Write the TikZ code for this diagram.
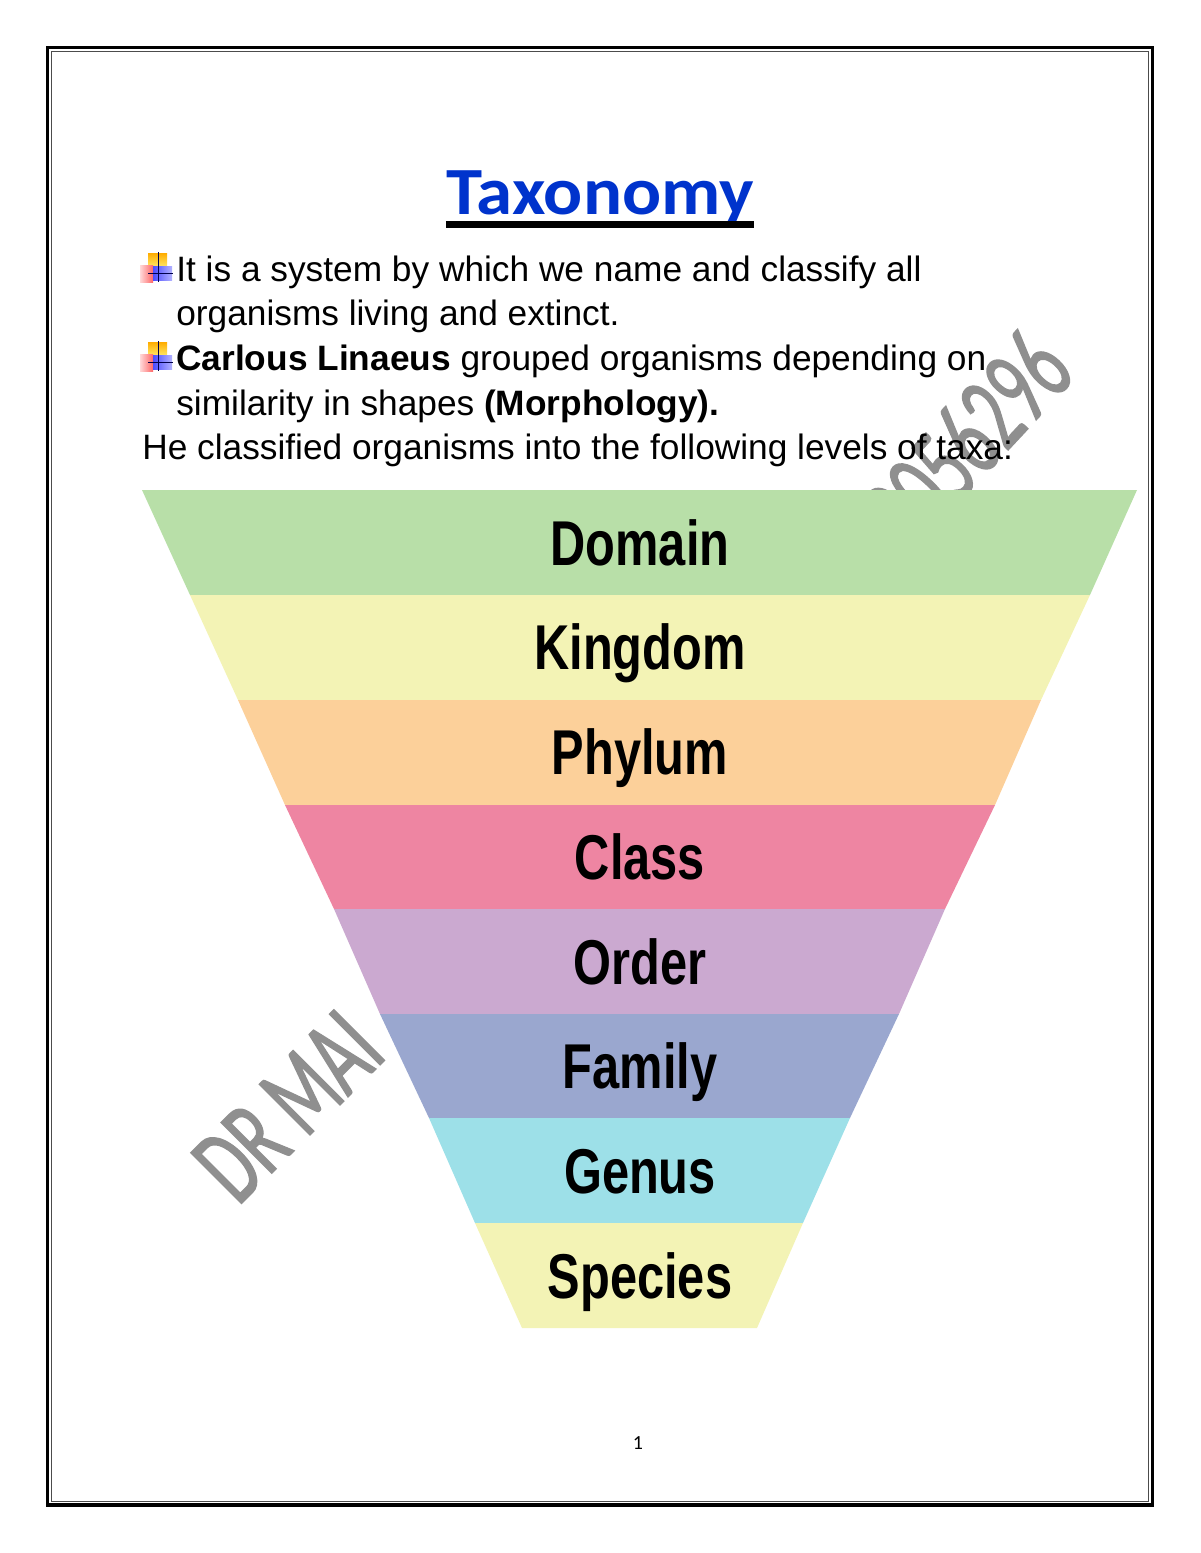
\documentclass[tikz,border=0pt]{standalone}
\usepackage{fontspec}
\usepackage{amsmath, amssymb}
\usetikzlibrary{positioning}

\setmainfont{Liberation Sans}
\newfontfamily\titlefont[FakeStretch=1.08]{Carlito}
\newfontfamily\pagefont{Carlito}
\newfontfamily\taxonfont[FakeStretch=0.77]{Liberation Sans}
\newfontfamily\markfont[FakeStretch=0.62, FakeBold=1.2]{Carlito}

\definecolor{titleblue}{HTML}{0033CC}
\definecolor{markgray}{HTML}{8F8F8F}
\definecolor{domaincol}{HTML}{B8DFA8}
\definecolor{kingdomcol}{HTML}{F3F3B5}
\definecolor{phylumcol}{HTML}{FCD09A}
\definecolor{classcol}{HTML}{EE85A2}
\definecolor{ordercol}{HTML}{CBA9D0}
\definecolor{familycol}{HTML}{9AA7CF}
\definecolor{genuscol}{HTML}{9DE0E8}
\definecolor{speciescol}{HTML}{F3F3B5}

\tikzset{
  body/.style={anchor=base west, inner sep=0pt, font=\fontsize{21.17}{26}\selectfont},
  taxon/.style={inner sep=0pt, text height=28pt, text depth=8pt, font=\taxonfont\bfseries\fontsize{38}{46}\selectfont},
  watermark/.style={inner sep=0pt, text=markgray, font=\markfont\fontsize{67}{80}\selectfont},
  bulletmark/.pic={
    \shade[top color=orange!65!yellow, bottom color=yellow!45!white] (-10,-20) rectangle (9,-1);
    \shade[left color=red!15, right color=red!60] (-18,-8) rectangle (-5,9);
    \shade[left color=blue!70, right color=blue!30] (-5,-7) rectangle (14,7);
    \draw[blue!30!black, line width=.5pt] (0,-21) -- (0,9) (-10,0) -- (15,0);
  }
}

\begin{document}
\begin{tikzpicture}[x=0.6pt, y=-0.6pt, node distance=62.85pt, on grid]
   \useasboundingbox (0,0) rectangle (1200,1553);

   % page frame
   \draw[line width=1.9pt] (47.8,47.8) rectangle (1152.6,1505);
   \draw[black!70, line width=.7pt] (51.2,51.2) rectangle (1148.5,1501.5);

   % watermark
   \node[watermark, anchor=base west, rotate=45] (mark_name) at (238,1207) {DR MAI};
   \node[watermark, anchor=base east, rotate=47] (mark_num) at (1078,375) {9056296};

   % title
   \node[anchor=base, inner sep=0pt, text=titleblue, font=\titlefont\bfseries\fontsize{40.5}{48}\selectfont] (title) at (600,214) {Taxonomy};
   \draw[line width=4.2pt] (title.west |- 0,224.7) -- (title.east |- 0,224.7);

   % text
   \pic at (158,273) {bulletmark};
   \node[body] (line_1) at (176,281) {It is a system by which we name and classify all};
   \node[body] (line_2) at (176,325) {organisms living and extinct.};
   \pic at (158,362) {bulletmark};
   \node[body] (line_3) at (176,370) {\textbf{Carlous Linaeus} grouped organisms depending on};
   \node[body] (line_4) at (176,415) {similarity in shapes \textbf{(Morphology).}};
   \node[body] (line_5) at (142,459) {He classified organisms into the following levels of taxa:};

   % funnel
   \fill[domaincol] (142,490) -- (1137,490) -- (1090,595) -- (190,595) -- cycle;
   \fill[kingdomcol] (190,595) -- (1090,595) -- (1041,700) -- (238,700) -- cycle;
   \fill[phylumcol] (238,700) -- (1041,700) -- (995,805) -- (285,805) -- cycle;
   \fill[classcol] (285,805) -- (995,805) -- (945,909) -- (334,909) -- cycle;
   \fill[ordercol] (334,909) -- (945,909) -- (899,1014) -- (380,1014) -- cycle;
   \fill[familycol] (380,1014) -- (899,1014) -- (850,1118) -- (429,1118) -- cycle;
   \fill[genuscol] (429,1118) -- (850,1118) -- (803,1223) -- (475,1223) -- cycle;
   \fill[speciescol] (475,1223) -- (803,1223) -- (757,1328) -- (522,1328) -- cycle;

   \node[taxon] (domain) at (640,548.5) {Domain};
   \node[taxon] (kingdom) [below=of domain] {Kingdom};
   \node[taxon] (phylum) [below=of kingdom] {Phylum};
   \node[taxon] (class) [below=of phylum] {Class};
   \node[taxon] (order) [below=of class] {Order};
   \node[taxon] (family) [below=of order] {Family};
   \node[taxon] (genus) [below=of family] {Genus};
   \node[taxon] (species) [below=of genus] {Species};

   % page number
   \node[inner sep=0pt, font=\pagefont\fontsize{12}{14}\selectfont] (page_no) at (638,1443) {1};
\end{tikzpicture}
\end{document}
